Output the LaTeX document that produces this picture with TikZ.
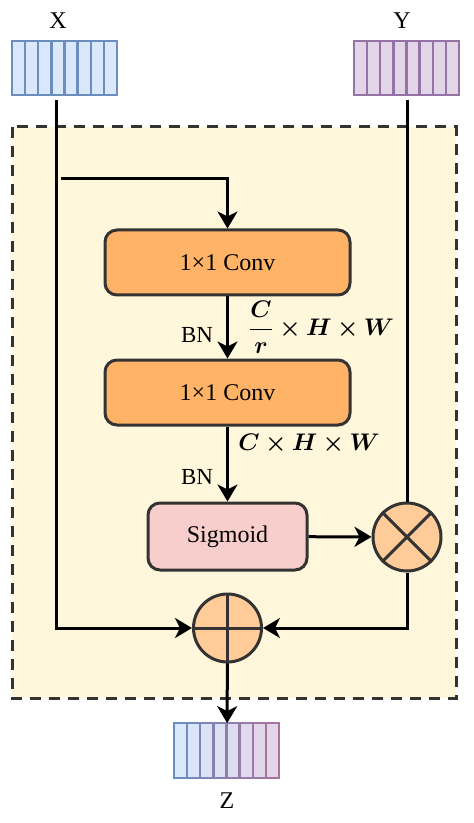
\documentclass[tikz,border=0pt]{standalone}
\usepackage{fontspec}
\setmainfont{Liberation Serif}
\usepackage{amsmath,bm}
\usetikzlibrary{arrows.meta}
\definecolor{boxyellow}{HTML}{FFF7DC}
\definecolor{convorange}{HTML}{FFB366}
\definecolor{sigpink}{HTML}{F8CECC}
\definecolor{opfill}{HTML}{FFCC99}
\definecolor{edgegray}{HTML}{333333}
\definecolor{xfill}{HTML}{DAE8FC}
\definecolor{xedge}{HTML}{6C8EBF}
\definecolor{yfill}{HTML}{E1D5E7}
\definecolor{yedge}{HTML}{9673A6}
\definecolor{zedge}{HTML}{A8739F}
\begin{document}
\begin{tikzpicture}
	[x=0.5pt,y=-0.5pt,
	 font=\fontsize{12}{14}\selectfont,
	 conv/.style={rounded corners=6pt,draw=edgegray,fill=convorange,line width=1.5pt,minimum width=122.5pt,minimum height=32.5pt},
	 sig/.style={rounded corners=6pt,draw=edgegray,fill=sigpink,line width=1.5pt,minimum width=79.5pt,minimum height=33.5pt,font=\fontsize{12}{14}\selectfont},
	 op/.style={circle,draw=edgegray,fill=opfill,line width=1.5pt,minimum size=34pt,inner sep=0pt},
	 feat/.style={minimum width=53pt,minimum height=27pt,inner sep=0pt},
	 flow/.style={line width=1.5pt,-{Stealth[length=8.5pt,width=10pt,inset=2.5pt]}},
	 link/.style={line width=1.5pt},
	 bn/.style={font=\fontsize{11.5}{13}\selectfont}]
    \useasboundingbox (0,0) rectangle (474,823);
    % dashed block
    \draw[fill=boxyellow,draw=edgegray,line width=1.5pt,dash pattern=on 5.5pt off 4pt] (12,127) rectangle (456,698);
    % inputs and output
    \node[feat] (xin) at (64.5,68) {};
    \node[feat] (yin) at (407,68) {};
    \node[feat] (zout) at (227,750.5) {};
    \foreach \i in {0,...,7} {
      \draw[fill=xfill,draw=xedge,line width=1.2pt] ({12+\i*13.125},41) rectangle ++(13.125,54);
      \draw[fill=yfill,draw=yedge,line width=1.2pt] ({354+\i*13.125},41) rectangle ++(13.125,54);
      \pgfmathsetmacro\mix{100-\i*100/7}
      \draw[fill=xfill!\mix!yfill,draw=xedge!\mix!zedge,line width=1.2pt] ({174+\i*13.125},723) rectangle ++(13.125,55);
    }
    \node (xlab) at (58,21) {X};
    \node (ylab) at (402,21) {Y};
    \node (zlab) at (227,801) {Z};
    % operations
    \node[conv] (conv1) at (227.5,262.5) {1×1 Conv};
    \node[conv] (conv2) at (227.5,392.5) {1×1 Conv};
    \node[sig] (sig) at (227.5,536.5) {Sigmoid};
    \node[op] (mul) at (407,537) {};
    \node[op] (add) at (227.5,628) {};
    \draw[link,draw=edgegray] (mul.north east) -- (mul.south west);
    \draw[link,draw=edgegray] (mul.north west) -- (mul.south east);
    \draw[link,draw=edgegray] (add.north) -- (add.south);
    \draw[link,draw=edgegray] (add.west) -- (add.east);
    % labels
    \node[bn] (bn1) at (197,335) {BN};
    \node[bn] (bn2) at (197,477) {BN};
    \node (dim1) at (321,327) {$\boldsymbol{\dfrac{C}{r}\times H\times W}$};
    \node (dim2) at (309,444) {$\boldsymbol{C\times H\times W}$};
    % connections
    \coordinate (xtop) at (56,100);
    \coordinate (ytop) at (407,100);
    \coordinate (br) at (61,179);
    \draw[flow] (xtop) |- (add);
    \draw[flow] (br) -| (conv1);
    \draw[flow] (conv1) -- (conv2);
    \draw[flow] (conv2) -- (sig);
    \draw[flow] (sig) -- (mul);
    \draw[link] (ytop) -- (mul);
    \draw[flow] (mul) |- (add);
    \draw[flow] (add) -- (zout);
\end{tikzpicture}
\end{document}
